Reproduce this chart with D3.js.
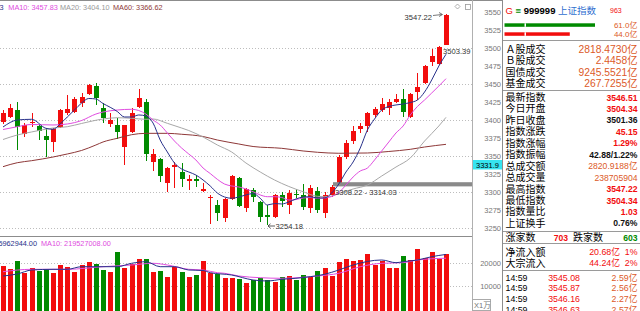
<!DOCTYPE html>
<html>
<head>
<meta charset="utf-8">
<script src="https://cdn.jsdelivr.net/npm/d3@7/dist/d3.min.js"></script>
<style>
  html, body { margin: 0; padding: 0; background: #fff; overflow: hidden; }
  svg { display: block; }
  text { font-family: "Liberation Sans", Arial, "Noto Sans CJK SC", sans-serif; }
  .cjk { font-family: "Noto Sans CJK SC", "Liberation Sans", sans-serif; }
</style>
</head>
<body>
<svg id="chart" width="640" height="311"></svg>
<script>
(function () {
  'use strict';

  // ── Daily K-line data (index points, volume in 万) ─────────────────────────
  const opens = [3397.6, 3405.0, 3414.3, 3381.0, 3395.6, 3392.1, 3378.2, 3370.3, 3390.3, 3409.7,
    3411.9, 3423.6, 3436.5, 3447.6, 3416.7, 3394.9, 3393.5, 3362.5, 3383.3, 3418.9,
    3425.0, 3342.1, 3346.3, 3312.5, 3335.8, 3328.6, 3315.7, 3317.8, 3302.5, 3291.4,
    3282.4, 3264.3, 3290.7, 3319.4, 3277.8, 3303.2, 3286.9, 3268.5, 3266.1, 3295.6,
    3281.7, 3297.6, 3296.3, 3277.8, 3302.2, 3270.8, 3296.3, 3311.5, 3348.6, 3371.7,
    3387.5, 3392.1, 3407.4, 3414.3, 3416.7, 3425.0, 3429.6, 3405.0, 3439.7, 3451.4,
    3481.4, 3478.2, 3504.34];
  const highs = [3414.3, 3422.6, 3425.8, 3396.2, 3410.6, 3393.5, 3389.3, 3389.3, 3415.7, 3435.1,
    3432.8, 3437.9, 3450.4, 3451.8, 3424.0, 3410.1, 3403.2, 3394.0, 3417.1, 3443.5,
    3429.6, 3360.8, 3347.6, 3335.6, 3342.1, 3341.1, 3324.0, 3324.0, 3312.5, 3296.3,
    3289.3, 3292.1, 3324.0, 3320.8, 3305.6, 3305.6, 3288.3, 3282.4, 3297.6, 3300.8,
    3303.2, 3304.2, 3311.5, 3310.1, 3307.8, 3300.8, 3310.1, 3351.8, 3372.6, 3392.1,
    3395.8, 3411.9, 3418.1, 3431.4, 3429.2, 3436.1, 3443.1, 3438.3, 3466.1, 3476.8,
    3498.6, 3503.39, 3547.22];
  const lows = [3394.9, 3403.2, 3358.8, 3377.2, 3391.1, 3372.6, 3349.0, 3356.4, 3389.3, 3407.4,
    3410.6, 3418.5, 3435.1, 3421.3, 3396.2, 3390.7, 3374.0, 3337.9, 3382.4, 3417.1,
    3343.9, 3329.6, 3314.7, 3300.8, 3305.6, 3306.9, 3303.2, 3306.9, 3300.8, 3256.0,
    3260.1, 3258.8, 3289.3, 3279.6, 3273.1, 3286.9, 3259.2, 3254.18, 3264.3, 3279.2,
    3269.9, 3291.7, 3275.4, 3271.3, 3270.8, 3263.9, 3293.9, 3310.1, 3345.8, 3367.1,
    3381.9, 3384.2, 3405.0, 3411.9, 3407.4, 3423.6, 3405.0, 3402.8, 3428.2, 3450.4,
    3475.4, 3476.8, 3504.34];
  const closes = [3410.1, 3417.5, 3391.1, 3393.5, 3397.6, 3385.1, 3372.6, 3387.9, 3414.3, 3415.7,
    3429.2, 3432.8, 3449.0, 3431.4, 3402.8, 3400.4, 3383.3, 3393.5, 3410.6, 3430.6,
    3353.2, 3353.2, 3323.3, 3334.4, 3337.9, 3317.8, 3317.8, 3315.7, 3304.6, 3293.5,
    3271.3, 3290.3, 3322.2, 3280.6, 3304.2, 3293.5, 3266.1, 3266.1, 3296.3, 3288.6,
    3299.4, 3295.6, 3280.0, 3305.6, 3275.4, 3296.3, 3306.9, 3348.6, 3368.9, 3385.6,
    3392.1, 3409.7, 3415.3, 3422.2, 3425.8, 3429.6, 3411.9, 3436.5, 3445.8, 3475.4,
    3489.3, 3501.36, 3546.51];
  const volumes = [18566, 17131, 20870, 15392, 17827, 16522, 17262, 15653, 19001, 18262,
    15827, 19001, 20436, 19436, 16827, 15827, 24784, 17566, 19436, 21479,
    21479, 16088, 16522, 13914, 18262, 16088, 13914, 14653, 20870, 15392,
    15088, 13479, 13218, 12783, 11305, 12479, 13218, 12479, 11740, 13914,
    14218, 12479, 14653, 13914, 16392, 17566, 14218, 20175, 21479, 20740,
    21175, 23784, 19001, 20870, 17566, 17566, 23044, 21175, 25958, 21914,
    24523, 21610, 23871];

  // moving averages: candle index + value
  const ma5Idx = [0, 2, 4, 6, 7, 8, 9, 10, 11, 12, 13, 14, 15, 16, 17, 18, 19, 20, 21, 22, 23, 24, 25, 26,
    27, 28, 29, 30, 31, 32, 33, 34, 35, 36, 37, 38, 39, 40, 41, 42, 43, 44, 45, 46, 47, 48, 49, 50,
    51, 52, 53, 54, 55, 56, 57, 58, 59, 60, 61, 62];
  const ma5 = [3390.7, 3400.4, 3401.4, 3388.9, 3387.5, 3394.9, 3404.6, 3414.3, 3424.0, 3430.3, 3429.6,
    3423.3, 3418.1, 3412.2, 3404.6, 3404.6, 3407.4, 3406.0, 3396.2, 3372.6, 3356.0, 3340.7, 3332.4,
    3328.2, 3324.0, 3317.1, 3308.8, 3299.0, 3293.5, 3291.7, 3293.5, 3296.3, 3298.3, 3291.7, 3282.4,
    3284.4, 3283.8, 3286.5, 3290.7, 3293.5, 3293.9, 3292.1, 3292.1, 3299.0, 3311.5, 3328.2, 3342.1,
    3361.5, 3386.5, 3401.8, 3414.3, 3419.2, 3421.3, 3422.6, 3424.7, 3428.2, 3439.3, 3456.0, 3475.4,
    3491.7];
  const ma10Idx = [0, 2, 4, 7, 9, 11, 13, 14, 16, 18, 19, 20, 21, 22, 23, 24, 25, 26, 27, 28, 29, 30,
    31, 32, 33, 34, 35, 36, 37, 38, 39, 40, 41, 42, 43, 44, 45, 46, 47, 48, 49, 50, 51, 52, 53, 54,
    55, 56, 57, 58, 59, 60, 61, 62];
  const ma10 = [3387.2, 3391.1, 3394.2, 3393.5, 3394.9, 3399.7, 3408.7, 3411.5, 3414.3, 3415.3,
    3413.6, 3408.7, 3400.4, 3393.5, 3382.4, 3371.2, 3361.5, 3353.2, 3344.9, 3333.7, 3326.1, 3318.0,
    3311.5, 3308.8, 3307.4, 3304.6, 3300.8, 3296.3, 3293.9, 3293.9, 3292.8, 3289.3, 3290.0, 3292.1,
    3292.8, 3291.7, 3292.1, 3294.2, 3299.7, 3310.1, 3321.3, 3329.6, 3333.7, 3344.9, 3357.4, 3369.9,
    3382.4, 3392.1, 3407.4, 3419.2, 3428.2, 3437.9, 3447.6, 3457.83];
  const ma20Idx = [0, 2, 4, 7, 9, 11, 14, 16, 18, 20, 21, 23, 25, 26, 28, 30, 32, 34, 36, 38, 40, 42,
    44, 45, 46, 47, 49, 51, 53, 55, 57, 59, 61, 62];
  const ma20 = [3373.3, 3379.6, 3383.8, 3389.3, 3391.1, 3395.6, 3401.8, 3403.6, 3402.8, 3401.4,
    3401.8, 3395.8, 3389.3, 3385.8, 3376.8, 3365.7, 3356.0, 3340.7, 3328.2, 3317.1, 3308.1, 3300.8,
    3294.4, 3293.9, 3294.9, 3298.3, 3304.6, 3310.1, 3322.6, 3335.1, 3347.6, 3371.2, 3392.1, 3404.10];
  const ma60Idx = [0, 2, 4, 7, 9, 11, 13, 14, 16, 18, 20, 23, 25, 28, 30, 33, 35, 39, 42, 44, 47, 51,
    54, 57, 59, 62];
  const ma60 = [3335.6, 3341.1, 3343.9, 3349.0, 3353.2, 3358.1, 3365.7, 3369.9, 3375.0, 3380.0,
    3381.9, 3381.9, 3380.6, 3377.5, 3372.6, 3367.1, 3363.6, 3361.1, 3357.4, 3355.6, 3354.2, 3354.6,
    3356.7, 3359.7, 3362.9, 3366.62];
  const volMa5Idx = [0, 2, 4, 7, 9, 11, 14, 16, 18, 20, 22, 24, 26, 28, 29, 32, 35, 37, 39, 41, 43,
    45, 47, 49, 53, 55, 56, 58, 60, 62];
  const volMa5 = [14218, 15088, 16827, 17131, 17131, 18262, 18262, 18262, 19740, 20436, 18262, 18262,
    16827, 16609, 15653, 14653, 12479, 12044, 12783, 13218, 13914, 14957, 16827, 19001, 21175, 20001,
    20436, 21175, 22610, 23596];
  const volMa10Idx = [0, 4, 9, 14, 18, 21, 23, 26, 28, 30, 31, 33, 36, 39, 42, 44, 47, 50, 53, 56, 58, 62];
  const volMa10 = [16088, 17131, 17131, 18262, 19001, 19740, 19001, 17131, 16827, 15653, 15392, 14218,
    13479, 13218, 13653, 14218, 15392, 18262, 19740, 20001, 21175, 21953];

  const priceTicks = [3250, 3275, 3300, 3325, 3350, 3375, 3400, 3425, 3450, 3475, 3500, 3525, 3550];
  const priceGrid = [3250, 3300, 3350, 3400, 3450, 3500];
  const volTicks = [10000, 20000];

  // ── Quote panel data ────────────────────────────────────────────────────────
  const flowBars = [61.0, 44.0];
  const flowBarLabels = ['61.0亿', '44.0亿'];
  const tradeLabels = ['Ａ股成交', 'Ｂ股成交', '国债成交', '基金成交'];
  const tradeValues = ['2818.4730亿', '2.4458亿', '9245.5521亿', '267.7255亿'];
  const quoteLabels = ['最新指数', '今日开盘', '昨日收盘', '指数涨跌', '指数涨幅', '指数振幅',
    '总成交额', '总成交量', '最高指数', '最低指数', '指数量比', '上证换手'];
  const quoteValues = ['3546.51', '3504.34', '3501.36', '45.15', '1.29%', '42.88/1.22%',
    '2820.9188亿', '238705904', '3547.22', '3504.34', '1.03', '0.76%'];
  const quoteTone = ['up', 'up', 'flat', 'up', 'up', 'flat', 'amt', 'amt', 'up', 'up', 'up', 'flat'];
  const flowLabels = ['净流入额', '大宗流入'];
  const flowAmounts = ['20.68亿', '44.24亿'];
  const flowPcts = ['1%', '2%'];
  const tickTimes = ['14:59', '14:59', '14:59', '14:59'];
  const tickPrices = ['3545.08', '3545.87', '3546.16', '3546.63'];
  const tickAmounts = ['2.59亿', '2.56亿', '2.27亿', '2.57亿'];

  // ── Colours ─────────────────────────────────────────────────────────────────
  const RED = '#f20d0d';
  const GREEN = '#008a00';
  const ORANGE = '#dc5a28';
  const C_MA5 = '#27308a';
  const C_MA10 = '#e04ce0';
  const C_MA20 = '#a8a8a8';
  const C_MA60 = '#8e3838';
  const TONE = { up: RED, flat: '#111', amt: ORANGE };

  const W = 640, H = 311;
  const PLOT_R = 472;
  const svg = d3.select('#chart');

  // ── Scales ──────────────────────────────────────────────────────────────────
  const x = d3.scaleLinear().domain([0, 62]).range([3, 446]);
  const y = d3.scaleLinear().domain([3250, 3550]).range([228.3, 12.3]);
  const yVol = d3.scaleLinear().domain([0, 20000]).range([308.7, 262.7]);
  const cx = i => Math.round(x(i));

  svg.append('rect').attr('width', W).attr('height', H).attr('fill', '#fff');

  const defs = svg.append('defs');
  defs.append('clipPath').attr('id', 'clip-price')
    .append('rect').attr('x', 0).attr('y', 1).attr('width', PLOT_R).attr('height', 235);
  defs.append('clipPath').attr('id', 'clip-vol')
    .append('rect').attr('x', 0).attr('y', 237).attr('width', PLOT_R).attr('height', 74);

  // ── Grid & frame ────────────────────────────────────────────────────────────
  const grid = svg.append('g').attr('stroke', '#bdbdbd').attr('stroke-dasharray', '1,2');
  priceGrid.forEach(v => {
    const yy = Math.round(y(v)) + 0.5;
    grid.append('line').attr('x1', 0).attr('x2', PLOT_R).attr('y1', yy).attr('y2', yy);
  });
  volTicks.forEach(v => {
    const yy = Math.round(yVol(v)) + 0.5;
    grid.append('line').attr('x1', 0).attr('x2', PLOT_R).attr('y1', yy).attr('y2', yy);
  });

  const frame = svg.append('g').attr('stroke', '#8c8c8c').attr('shape-rendering', 'crispEdges');
  frame.append('line').attr('x1', 0).attr('x2', 503).attr('y1', 0.5).attr('y2', 0.5);
  frame.append('line').attr('x1', 0).attr('x2', PLOT_R).attr('y1', 236.5).attr('y2', 236.5);
  frame.append('line').attr('x1', PLOT_R + 0.5).attr('x2', PLOT_R + 0.5).attr('y1', 0).attr('y2', H)
    .attr('stroke', '#b0b0b0');
  frame.append('line').attr('x1', 502.5).attr('x2', 502.5).attr('y1', 0).attr('y2', H);

  // ── Candles ─────────────────────────────────────────────────────────────────
  const candles = d3.range(opens.length).map(i => ({
    i, o: opens[i], h: highs[i], l: lows[i], c: closes[i], v: volumes[i]
  }));
  const isUp = d => d.c >= d.o;

  const price = svg.append('g').attr('clip-path', 'url(#clip-price)');
  const kg = price.append('g').attr('shape-rendering', 'crispEdges');

  kg.selectAll('line.wick')
    .data(candles)
    .join('line')
    .attr('class', 'wick')
    .attr('x1', d => cx(d.i) + 0.5).attr('x2', d => cx(d.i) + 0.5)
    .attr('y1', d => Math.round(y(d.h))).attr('y2', d => Math.round(y(d.l)))
    .attr('stroke', d => isUp(d) ? RED : GREEN);

  kg.selectAll('rect.body')
    .data(candles)
    .join('rect')
    .attr('class', 'body')
    .attr('x', d => cx(d.i) - 2)
    .attr('width', 5)
    .attr('y', d => Math.round(y(Math.max(d.o, d.c))))
    .attr('height', d => Math.max(1, Math.round(y(Math.min(d.o, d.c))) - Math.round(y(Math.max(d.o, d.c)))))
    .attr('fill', d => isUp(d) ? RED : GREEN);

  // price band 3308.22 - 3314.03
  price.append('rect')
    .attr('x', 333).attr('width', PLOT_R - 333)
    .attr('y', y(3314.03)).attr('height', y(3308.22) - y(3314.03))
    .attr('fill', '#8a8a8a');

  // ── Moving-average lines ────────────────────────────────────────────────────
  function maPath(idx, vals, sc) {
    return d3.line()
      .x((d, k) => x(idx[k]))
      .y(d => sc(d))
      .curve(d3.curveMonotoneX)(vals);
  }
  [[ma60Idx, ma60, C_MA60], [ma20Idx, ma20, C_MA20], [ma10Idx, ma10, C_MA10], [ma5Idx, ma5, C_MA5]]
    .forEach(([idx, vals, col]) => {
      price.append('path').attr('d', maPath(idx, vals, y))
        .attr('fill', 'none').attr('stroke', col).attr('stroke-width', 1);
    });

  // ── Volume ──────────────────────────────────────────────────────────────────
  const vol = svg.append('g').attr('clip-path', 'url(#clip-vol)');
  vol.append('g').attr('shape-rendering', 'crispEdges')
    .selectAll('rect')
    .data(candles)
    .join('rect')
    .attr('x', d => cx(d.i) - 2)
    .attr('width', 5)
    .attr('y', d => Math.round(yVol(d.v)))
    .attr('height', d => H - Math.round(yVol(d.v)))
    .attr('fill', d => isUp(d) ? RED : GREEN);

  [[volMa10Idx, volMa10, C_MA10], [volMa5Idx, volMa5, C_MA5]].forEach(([idx, vals, col]) => {
    vol.append('path').attr('d', maPath(idx, vals, yVol))
      .attr('fill', 'none').attr('stroke', col).attr('stroke-width', 1);
  });

  // ── Axes ────────────────────────────────────────────────────────────────────
  const axisStyle = g => {
    g.select('.domain').remove();
    g.selectAll('text').attr('fill', '#777').attr('font-size', 7.5)
      .attr('font-family', '"Liberation Sans", Arial, sans-serif');
  };
  svg.append('g').attr('transform', 'translate(502,0)')
    .call(d3.axisLeft(y).tickValues(priceTicks).tickSize(0).tickPadding(1).tickFormat(d3.format('d')))
    .call(axisStyle);
  svg.append('g').attr('transform', 'translate(502,0)')
    .call(d3.axisLeft(yVol).tickValues(volTicks).tickSize(0).tickPadding(1).tickFormat(d3.format('d')))
    .call(axisStyle);

  // current crosshair price tag
  svg.append('rect').attr('x', 473).attr('y', 160).attr('width', 29).attr('height', 9.5).attr('fill', '#36e4f0');
  svg.append('text').attr('x', 487.5).attr('y', 167.7).attr('text-anchor', 'middle')
    .attr('font-size', 7.5).attr('fill', '#000').text('3331.9');

  svg.append('rect').attr('x', 472.5).attr('y', 299.5).attr('width', 18).attr('height', 11)
    .attr('fill', 'none').attr('stroke', '#aaa');
  svg.append('text').attr('x', 474).attr('y', 308.3).attr('font-size', 7.5).attr('fill', '#777').text('X1万');

  // ── Legends ─────────────────────────────────────────────────────────────────
  const leg = svg.append('g').attr('font-size', 7.3);
  leg.append('text').attr('x', 3.6).attr('y', 9.5).attr('text-anchor', 'end').attr('fill', C_MA5).text('MA5: 3491.73');
  leg.append('text').attr('x', 8.3).attr('y', 9.5).attr('fill', C_MA10).text('MA10: 3457.83');
  leg.append('text').attr('x', 60).attr('y', 9.5).attr('fill', '#999').text('MA20: 3404.10');
  leg.append('text').attr('x', 113).attr('y', 9.5).attr('fill', C_MA60).text('MA60: 3366.62');

  const vleg = svg.append('g').attr('font-size', 7.3);
  vleg.append('text').attr('x', 37).attr('y', 245.5).attr('text-anchor', 'end').attr('fill', C_MA5).text('MA5: 235962944.00');
  vleg.append('text').attr('x', 41).attr('y', 245.5).attr('fill', C_MA10).text('MA10: 219527008.00');

  // ── Annotations ─────────────────────────────────────────────────────────────
  const ann = svg.append('g').attr('font-size', 7.6).attr('fill', '#333');
  ann.append('text').attr('x', 432).attr('y', 19.5).attr('text-anchor', 'end').text('3547.22');
  ann.append('path').attr('d', 'M433,15.5L442,14.5M439,12.5L442.5,14.5L439,16.5')
    .attr('fill', 'none').attr('stroke', '#555').attr('stroke-width', 0.8);
  ann.append('text').attr('x', 443).attr('y', 54).text('3503.39');
  ann.append('text').attr('x', 335).attr('y', 194.5).text('3308.22 - 3314.03');
  ann.append('path').attr('d', 'M268,226H275M270.5,223.8L268,226L270.5,228.2')
    .attr('fill', 'none').attr('stroke', '#333').attr('stroke-width', 0.8);
  ann.append('text').attr('x', 275.5).attr('y', 228.7).text('3254.18');

  // small tool icons
  svg.append('path').attr('d', 'M457.5,4L460,6.5L457.5,9L455,6.5Z')
    .attr('fill', 'none').attr('stroke', '#999').attr('stroke-width', 0.8);
  svg.append('rect').attr('x', 465.5).attr('y', 4.5).attr('width', 5).attr('height', 5)
    .attr('fill', 'none').attr('stroke', '#999').attr('stroke-width', 0.8);

  // ── Quote panel ─────────────────────────────────────────────────────────────
  const P_L = 505.5, P_R = 637.5;
  const panel = svg.append('g');
  const sep = yy => panel.append('line').attr('x1', 503).attr('x2', W).attr('y1', yy).attr('y2', yy)
    .attr('stroke', '#9a9a9a').attr('shape-rendering', 'crispEdges');

  const head = panel.append('text').attr('x', P_L).attr('y', 13.5).attr('font-size', 9.5);
  head.append('tspan').attr('fill', RED).text('G ');
  head.append('tspan').attr('fill', GREEN).text('≡ ');
  head.append('tspan').attr('fill', '#000').attr('font-weight', 'bold').text('999999 ');
  head.append('tspan').attr('class', 'cjk').attr('fill', '#2f6fd0').text('上证指数');
  panel.append('text').attr('x', 610).attr('y', 12.5).attr('font-size', 7).attr('fill', RED).text('963');

  const barX = d3.scaleLinear().domain([0, 61]).range([0, 90.5]);
  flowBars.forEach((v, k) => {
    const yy = k === 0 ? 23.3 : 32.3;
    panel.append('rect').attr('x', 504.5).attr('y', yy).attr('width', barX(v)).attr('height', 3.5)
      .attr('fill', k === 0 ? GREEN : RED);
    panel.append('rect').attr('x', 524.5).attr('y', yy).attr('width', 1.5).attr('height', 3.5).attr('fill', '#fff');
    panel.append('text').attr('x', P_R).attr('y', yy + 5).attr('text-anchor', 'end')
      .attr('font-size', 8).attr('fill', ORANGE).text(flowBarLabels[k]);
  });
  sep(40.5);

  tradeLabels.forEach((lab, k) => {
    const yy = 49.3 + k * 11.4;
    panel.append('text').attr('class', 'cjk').attr('x', P_L).attr('y', yy + 3.6)
      .attr('font-size', 10).attr('fill', '#000').text(lab);
    panel.append('text').attr('x', P_R).attr('y', yy + 3.6).attr('text-anchor', 'end')
      .attr('font-size', 10.3).attr('fill', ORANGE).text(tradeValues[k]);
  });
  sep(90.5);

  quoteLabels.forEach((lab, k) => {
    const yy = 97.3 + k * 11.45;
    panel.append('text').attr('class', 'cjk').attr('x', P_L).attr('y', yy + 3.6)
      .attr('font-size', 10).attr('fill', '#000').text(lab);
    panel.append('text').attr('x', P_R).attr('y', yy + 3.2).attr('text-anchor', 'end')
      .attr('font-size', 8.6).attr('font-weight', quoteTone[k] === 'amt' ? 'normal' : 'bold')
      .attr('fill', TONE[quoteTone[k]]).text(quoteValues[k]);
  });
  sep(231.5);

  const rise = panel.append('g');
  rise.append('text').attr('class', 'cjk').attr('x', P_L).attr('y', 241).attr('font-size', 10).text('涨家数');
  rise.append('text').attr('x', 568).attr('y', 240.5).attr('text-anchor', 'end').attr('font-size', 8.6)
    .attr('font-weight', 'bold').attr('fill', RED).text('703');
  rise.append('text').attr('class', 'cjk').attr('x', 573).attr('y', 241).attr('font-size', 10).text('跌家数');
  rise.append('text').attr('x', P_R).attr('y', 240.5).attr('text-anchor', 'end').attr('font-size', 8.6)
    .attr('font-weight', 'bold').attr('fill', GREEN).text('603');
  sep(243.5);

  flowLabels.forEach((lab, k) => {
    const yy = 252 + k * 11;
    panel.append('text').attr('class', 'cjk').attr('x', P_L).attr('y', yy + 3.6).attr('font-size', 10).text(lab);
    panel.append('text').attr('x', 620).attr('y', yy + 3.4).attr('text-anchor', 'end').attr('font-size', 8.8)
      .attr('fill', RED).text(flowAmounts[k]);
    panel.append('text').attr('x', P_R).attr('y', yy + 3.4).attr('text-anchor', 'end').attr('font-size', 8.8)
      .attr('fill', RED).text(flowPcts[k]);
  });
  sep(270.5);

  tickTimes.forEach((t, k) => {
    const yy = 277.5 + k * 10.6;
    panel.append('text').attr('x', P_L).attr('y', yy + 3.3).attr('font-size', 8.8).attr('fill', '#000').text(t);
    panel.append('text').attr('x', 580).attr('y', yy + 3.3).attr('text-anchor', 'end').attr('font-size', 8.8)
      .attr('fill', RED).text(tickPrices[k]);
    panel.append('text').attr('x', P_R).attr('y', yy + 3.3).attr('text-anchor', 'end').attr('font-size', 8.8)
      .attr('fill', ORANGE).text(tickAmounts[k]);
  });
})();
</script>
</body>
</html>
